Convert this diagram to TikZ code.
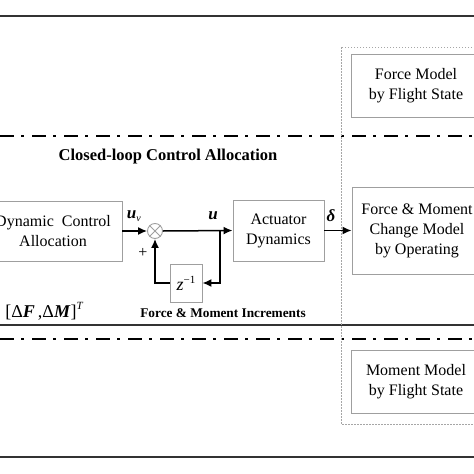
\documentclass[tikz,border=0pt]{standalone}
\usepackage{fontspec}
\setmainfont{Liberation Serif}
\usetikzlibrary{arrows.meta,positioning,calc}
\tikzset{
  blk/.style={draw=gray!75, line width=0.9pt, align=center, inner sep=0pt,
    font=\fontsize{16}{20}\selectfont},
  sig/.style={-{Latex[length=9pt,width=8pt]}, line width=1.5pt},
  sepline/.style={line width=1.4pt, draw=black!80},
  dashdot/.style={line width=2pt, dash pattern=on 14pt off 7pt on 3pt off 8pt},
  lbl/.style={inner sep=0pt, font=\fontsize{17}{20}\selectfont\bfseries\itshape}
}
\begin{document}
\begin{tikzpicture}[x = 1pt, y = -1pt]
\useasboundingbox (0,0) rectangle (474,474);
\clip (0,0) rectangle (474,474);

\draw[sepline] (0,16) -- (474,16);
\draw[sepline] (0,325) -- (474,325);
\draw[sepline] (0,457) -- (474,457);
\draw[dashdot] (0,136) -- (474,136);
\draw[dashdot] (0,339) -- (474,339);

\draw[gray!70, line width=0.8pt, dash pattern=on 1.5pt off 1.5pt] (341,47) rectangle (490,424);

\node[blk, minimum width=130pt, minimum height=63pt] (fm) at (416,85.5) {Force Model\\by Flight State};
\node[blk, minimum width=130pt, minimum height=87pt] (fmc) at (417,230.5) {Force \& Moment\\Change Model\\by Operating};
\node[blk, minimum width=130pt, minimum height=63pt] (mm) at (416,381.5) {Moment Model\\by Flight State};

\node[font=\fontsize{16.5}{19}\selectfont\bfseries] (title) at (168,157) {Closed-loop Control Allocation};

\node[blk, minimum width=138pt, minimum height=60pt] (dca) at (53,231) {Dynamic~~Control\\Allocation};
\node[blk, minimum width=91pt, minimum height=61pt] (act) at (278.5,230.5) {Actuator\\Dynamics};
\node[circle, draw=gray!75, line width=0.9pt, minimum size=15pt, inner sep=0pt] (sum) at (155,231) {};
\draw[gray!75, line width=0.9pt] (sum.45) -- (sum.225) (sum.135) -- (sum.315);
\node[blk, minimum width=32pt, minimum height=38pt] (zinv) at (186,283) {\fontsize{18}{20}\selectfont\itshape z\raisebox{7pt}{\fontsize{11}{11}\selectfont\upshape −1}};

\coordinate (br) at (220,231);
\coordinate (brd) at (220,283);

\draw[sig] (dca.east |- sum) -- (sum.west);
\draw[sig] (sum.east) -- (act.west);
\draw[sig] (br) -- (brd) -- (zinv.east);
\draw[sig] (zinv.west) -- (zinv.west -| sum) -- (sum.south);
\draw[sig] (act.east) -- (fmc.west |- act);

\node[lbl] (uv) at (134,216) {u\textsubscript{\fontsize{10}{10}\selectfont\mdseries\itshape v}};
\node[lbl] (u) at (213,216) {u};
\node[lbl] (delta) at (331,216) {δ};
\node[font=\fontsize{16}{16}\selectfont] (plus) at (143,253) {+};

\node[font=\fontsize{18}{20}\selectfont] (incr) at (44,311) {[Δ\textbf{\textit{F}}\,,Δ\textbf{\textit{M}}]\raisebox{8pt}{\fontsize{11}{11}\selectfont\itshape T}};
\node[font=\fontsize{13.3}{15}\selectfont\bfseries] (incrlbl) at (223,313) {Force \& Moment Increments};
\end{tikzpicture}
\end{document}
